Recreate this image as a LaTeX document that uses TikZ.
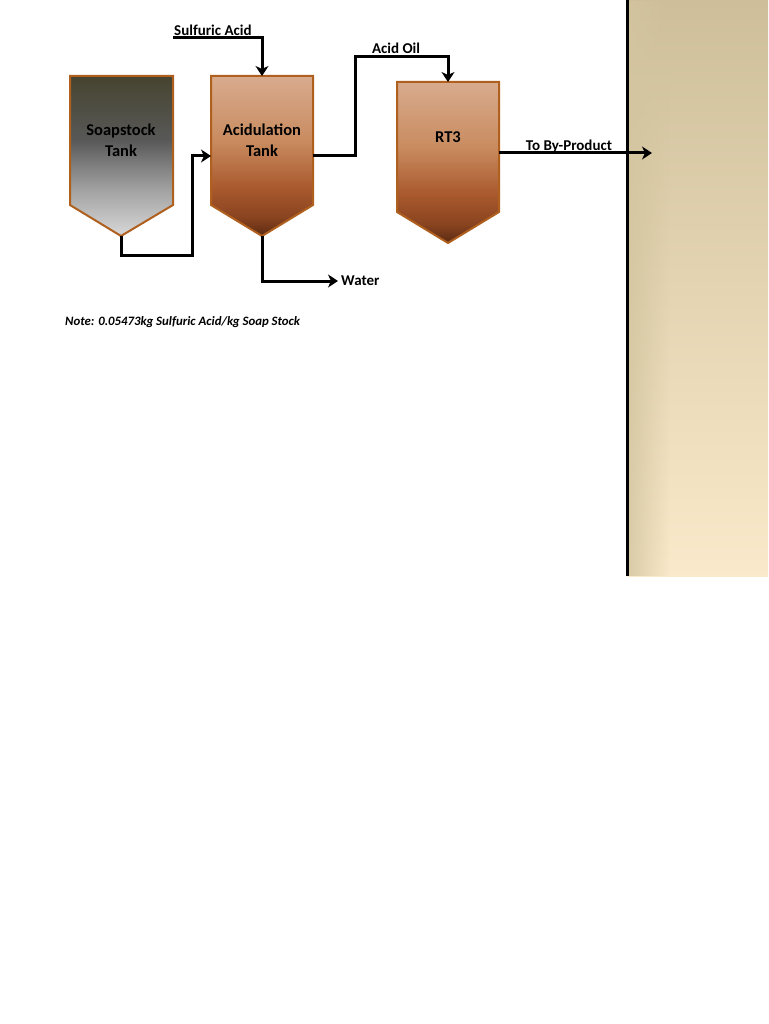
\documentclass[tikz,border=0pt]{standalone}
\usepackage{fontspec}
\setmainfont{Carlito}
\usetikzlibrary{arrows.meta,fadings}

\definecolor{tankrim}{HTML}{B0601E}
\definecolor{soaptop}{HTML}{46442F}
\definecolor{soapmid}{HTML}{585858}
\definecolor{soaplow}{HTML}{A0A0A0}
\definecolor{soapbot}{HTML}{D8D8D8}
\definecolor{acidtop}{HTML}{D8AB8E}
\definecolor{acidmid}{HTML}{C98C60}
\definecolor{acidlow}{HTML}{A9592D}
\definecolor{aciddeep}{HTML}{8A4420}
\definecolor{acidbot}{HTML}{5C2B12}
\definecolor{pantop}{HTML}{CEBF9A}
\definecolor{panmid}{HTML}{EEE6CE}
\definecolor{panbot}{HTML}{FAE9CA}
\definecolor{panedge}{HTML}{D3C5A0}

\pgfdeclareverticalshading{soapfill}{100bp}{color(0bp)=(soapbot); color(25bp)=(soapbot); color(40bp)=(soaplow); color(55bp)=(soapmid); color(75bp)=(soaptop); color(100bp)=(soaptop)}
\pgfdeclareverticalshading{acidfill}{100bp}{color(0bp)=(acidbot); color(25bp)=(acidbot); color(31bp)=(aciddeep); color(40bp)=(acidlow); color(55bp)=(acidmid); color(75bp)=(acidtop); color(100bp)=(acidtop)}
\tikzfading[name=fade right, left color=transparent!0, right color=transparent!100]

\begin{document}
\begin{tikzpicture}[x=1pt, y=-1pt,
    tankbody/.style={draw=tankrim, line width=2pt, line join=miter},
    tanklabel/.style={font=\fontsize{16.5}{21}\selectfont\bfseries, align=center, text=black},
    flowlabel/.style={font=\fontsize{15}{17}\selectfont\bfseries, inner sep=0pt},
    pipe/.style={line width=3pt, -{Stealth[length=10pt, width=13pt, inset=3pt]}}]
        \useasboundingbox (0,0) rectangle (768,1024);

        % side panel
        \shade[top color=pantop, middle color=panmid, bottom color=panbot] (627,0) rectangle (768,576);
        \fill[panedge, path fading=fade right, opacity=0.8] (629,0) rectangle (670,576);
        \draw[line width=3pt] (627,0) -- (627,576);

        % tanks
        \shade[tankbody, shading=soapfill] (70,76) -- (173,76) -- (173,205) -- (121,236) -- (70,205) -- cycle;
        \shade[tankbody, shading=acidfill] (211,76) -- (313,76) -- (313,205) -- (262,236) -- (211,205) -- cycle;
        \shade[tankbody, shading=acidfill] (397,82) -- (499,82) -- (499,212) -- (448,243) -- (397,212) -- cycle;

        \node[tanklabel] (soap) at (121,140) {Soapstock\\Tank};
        \node[tanklabel] (acid) at (262,140) {Acidulation\\Tank};
        \node[tanklabel] (rt3) at (448,137) {RT3};

        \coordinate (soap base) at (121,236);
        \coordinate (acid top) at (262,76);
        \coordinate (acid west) at (211,156);
        \coordinate (acid east) at (313,156);
        \coordinate (acid base) at (262,236);
        \coordinate (rt3 top) at (448,82);
        \coordinate (rt3 east) at (499,153);
        \coordinate (sulf in) at (173,38);
        \coordinate (out end) at (652,153);

        % stream labels
        \node[flowlabel, anchor=base west] (sulf) at (174,36) {Sulfuric Acid};
        \node[flowlabel, anchor=base] (oil) at (396,54) {Acid Oil};
        \node[flowlabel, anchor=west] (water) at (341,281) {Water};
        \node[flowlabel, anchor=base] (byprod) at (569,151) {To By-Product};
        \node[anchor=base west, inner sep=0pt, font=\fontsize{12.8}{15}\selectfont\bfseries\itshape] (note) at (65,325) {Note: 0.05473kg Sulfuric Acid/kg Soap Stock};

        % streams
        \draw[pipe] (sulf in) -| (acid top);
        \draw[pipe] (soap base) -- ++(0,19) -| ([xshift=-19pt]acid west) -- (acid west);
        \draw[pipe] (acid east) -- ++(42,0) |- ([yshift=25pt]rt3 top) -- (rt3 top);
        \draw[pipe] (acid base) |- ([xshift=-3pt]water.west);
        \draw[pipe] (rt3 east) -- (out end);
\end{tikzpicture}
\end{document}
